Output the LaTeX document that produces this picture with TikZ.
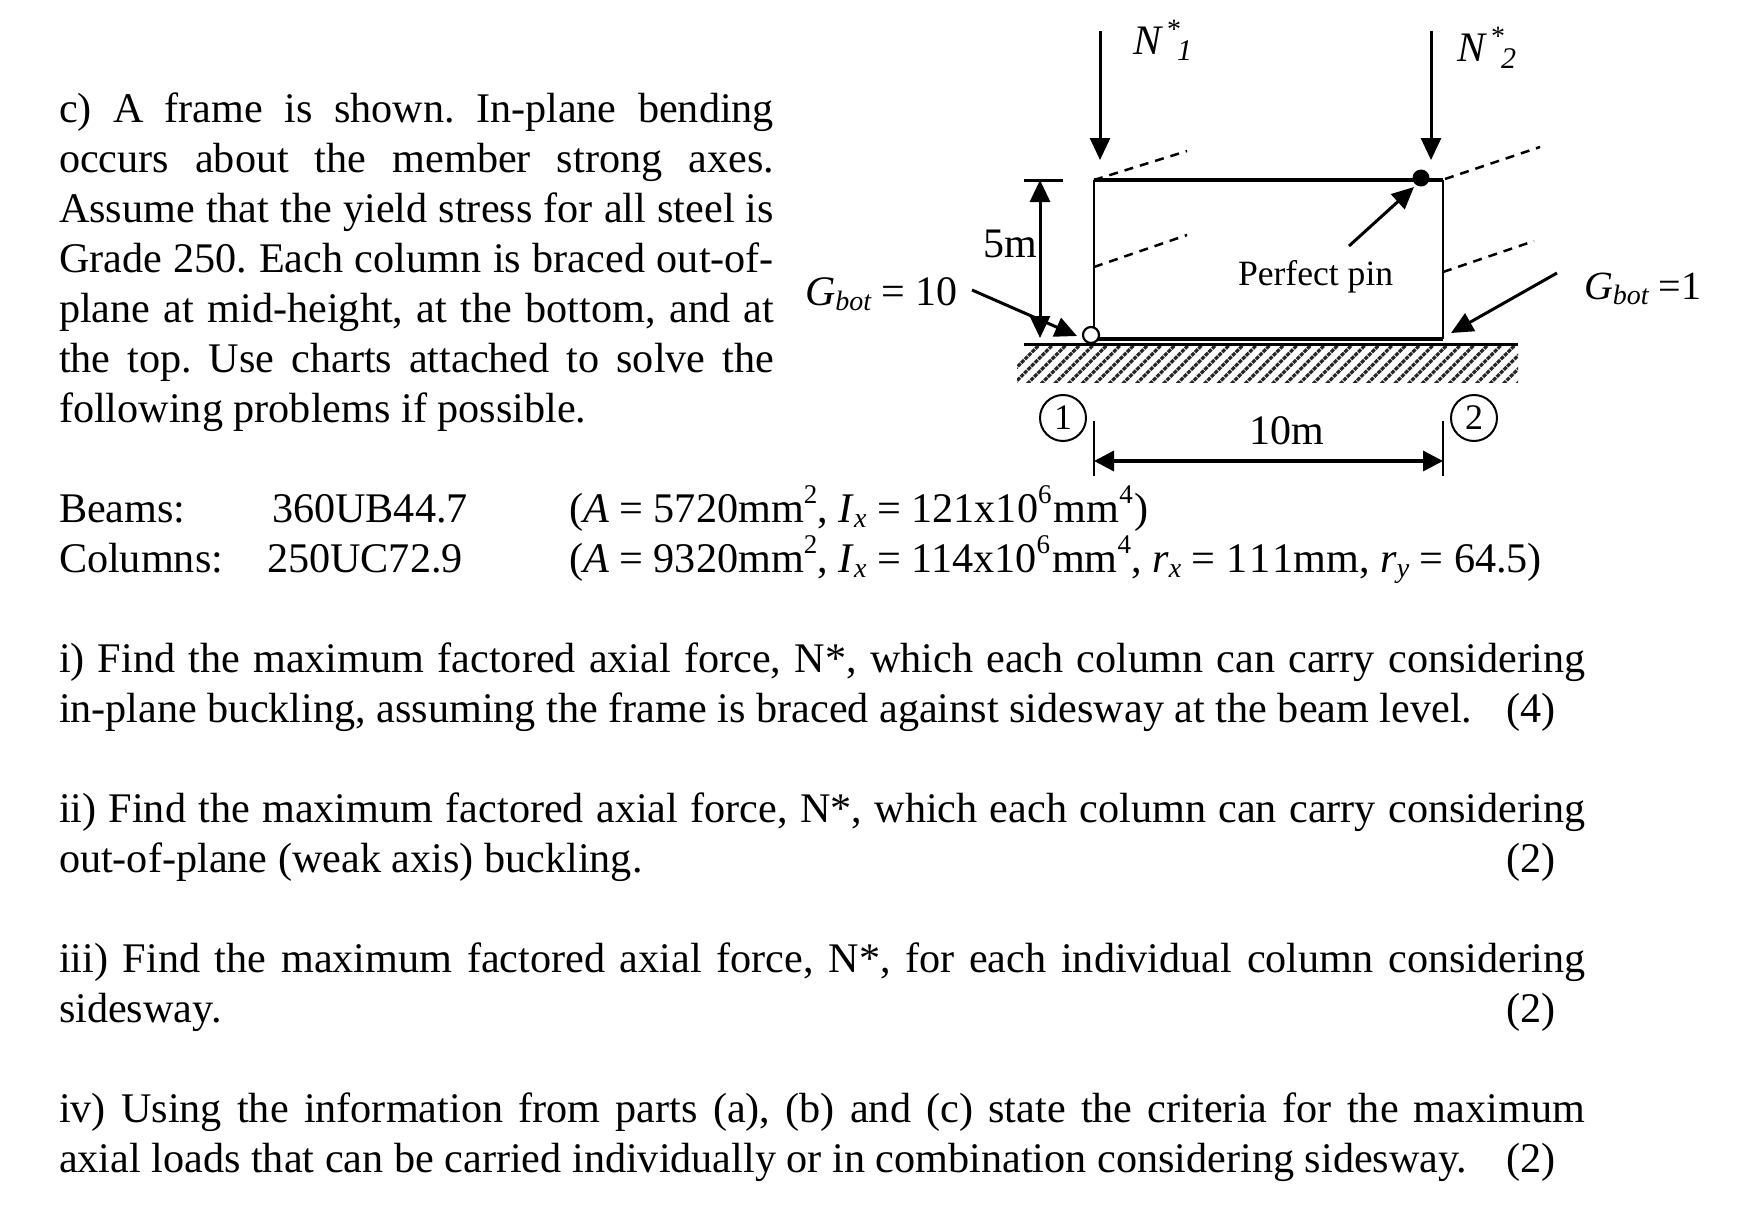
\documentclass[tikz,border=0pt]{standalone}
\usepackage{fontspec}
\setmainfont{Liberation Serif}
\usetikzlibrary{arrows.meta}
\frenchspacing
\newcommand{\bodysize}{\fontsize{42.2}{50}\selectfont}
\newcommand{\sizeof}[1]{\fontsize{#1}{#1}\selectfont}
\newcommand{\jline}[2]{\makebox[#1][s]{#2}}
\newcommand{\upidx}[1]{\raisebox{19pt}{\sizeof{27}#1}}
\newcommand{\dnidx}[1]{\raisebox{-5pt}{\sizeof{28}\itshape #1}}
\newcommand{\starlabel}[1]{{\itshape N\hspace{6pt}\rlap{\raisebox{16pt}{\sizeof{28}\upshape *}}\hspace{10pt}\raisebox{-6pt}{\sizeof{30}#1}}}
\newcommand{\gbot}{{\itshape G}\raisebox{-5pt}{\sizeof{28}\itshape bot}}
\tikzset{
  x=1pt,y=-1pt,
  txt/.style={anchor=base west,inner sep=0pt,outer sep=0pt,font=\bodysize},
  lbl/.style={anchor=base west,inner sep=0pt,outer sep=0pt,font=\sizeof{42}},
  ptr/.style={line width=3pt,-{Triangle[length=22pt,width=20pt]},shorten >=0pt},
  dashline/.style={line width=2.5pt,dash pattern=on 9pt off 7pt},
  dimtick/.style={line width=2pt},
  pinnode/.style={circle,draw=black,line width=2.2pt,minimum size=16pt,inner sep=0pt},
  numcirc/.style={circle,draw=black,line width=2pt,minimum size=46pt,inner sep=0pt,font=\sizeof{36}},
}
\begin{document}
\begin{tikzpicture}
\useasboundingbox (0,0) rectangle (1745,1223);
% paragraph
\node[txt] (p1) at (59,122) {\jline{715pt}{c) A frame is shown. In-plane bending}};
\node[txt] (p2) at (59,172) {\jline{715pt}{occurs about the member strong axes.}};
\node[txt] (p3) at (59,222) {\jline{715pt}{Assume that the yield stress for all steel is}};
\node[txt] (p4) at (59,272) {\jline{715pt}{Grade 250. Each column is braced out-of-}};
\node[txt] (p5) at (59,322) {\jline{715pt}{plane at mid-height, at the bottom, and at}};
\node[txt] (p6) at (59,372) {\jline{715pt}{the top. Use charts attached to solve the}};
\node[txt] (p7) at (59,422) {following problems if possible.};
% sections
\node[txt] (b1) at (59,522) {Beams:};
\node[txt] (b2) at (272,522) {360UB44.7};
\node[txt] (b3) at (569,522) {(\textit{A} = 5720mm\upidx{2}, \textit{I}\dnidx{x} = 121x10\upidx{6}\hspace{2pt}mm\upidx{4}\hspace{2pt})};
\node[txt] (c1) at (59,572) {Columns:};
\node[txt] (c2) at (267,572) {250UC72.9};
\node[txt] (c3) at (569,572) {(\textit{A} = 9320mm\upidx{2}, \textit{I}\dnidx{x} = 114x10\upidx{6}\hspace{2pt}mm\upidx{4}, \textit{r}\dnidx{x} = 1\hspace{2pt}1\hspace{2pt}1mm, \textit{r}\dnidx{y} = 64.5)};
\node[txt] (i1) at (59,672) {\jline{1526pt}{i) Find the maximum factored axial force, N*, which each column can carry considering}};
\node[txt] (i2) at (59,722) {in-plane buckling, assuming the frame is braced against sidesway at the beam level.};
\node[txt,anchor=base east] (i3) at (1556,722) {(4)};
\node[txt] (ii1) at (59,822) {\jline{1526pt}{ii) Find the maximum factored axial force, N*, which each column can carry considering}};
\node[txt] (ii2) at (59,872) {out-of-plane (weak axis) buckling.};
\node[txt,anchor=base east] (ii3) at (1556,872) {(2)};
\node[txt] (iii1) at (59,972) {\jline{1526pt}{iii) Find the maximum factored axial force, N*, for each individual column considering}};
\node[txt] (iii2) at (59,1022) {sidesway.};
\node[txt,anchor=base east] (iii3) at (1556,1022) {(2)};
\node[txt] (iv1) at (59,1122) {\jline{1526pt}{iv) Using the information from parts (a), (b) and (c) state the criteria for the maximum}};
\node[txt] (iv2) at (59,1172) {axial loads that can be carried individually or in combination considering sidesway.};
\node[txt,anchor=base east] (iv3) at (1556,1172) {(2)};
% hatch
\begin{scope}
\clip (1017,346) rectangle (1518,382);
\foreach \i in {0,...,42}{
  \draw[line width=3.2pt,black!85,dash pattern=on 4pt off 1pt] ({1000+\i*13.6},384) -- ({1040+\i*13.6},344);
}
\end{scope}
% named points
\coordinate (tl) at (1094,180);
\coordinate (tr) at (1443,180);
\coordinate (bl) at (1094,339);
\coordinate (br) at (1443,339);
\coordinate (gl) at (1024,344.5);
\coordinate (gr) at (1518,344.5);
\draw[line width=3pt] (gl) -- (gr);
\draw[line width=2.4pt] (bl) -- (tl);
\draw[line width=2.4pt] (tr) -- (br);
\draw[line width=3.4pt] (tl) -- (tr);
\draw[line width=3.4pt] (bl) -- (br);
% dashed
\coordinate (d1a) at (1094,180); \coordinate (d1b) at (1187,151);
\coordinate (d2a) at (1445,179); \coordinate (d2b) at (1540,147);
\coordinate (d3a) at (1094,267); \coordinate (d3b) at (1187,235);
\coordinate (d4a) at (1443,272); \coordinate (d4b) at (1534,241);
\draw[dashline] (d1a) -- (d1b);
\draw[dashline] (d2a) -- (d2b);
\draw[dashline] (d3a) -- (d3b);
\draw[dashline] (d4a) -- (d4b);
% pins
\node[pinnode,fill=white] (pinA) at (1091,335) {};
\node[circle,fill=black,minimum size=17pt,inner sep=0pt] (pinB) at (1421,178) {};
% load arrows
\coordinate (n1s) at (1100,31); \coordinate (n1e) at (1100,160);
\coordinate (n2s) at (1431,31); \coordinate (n2e) at (1431,160);
\draw[ptr] (n1s) -- (n1e);
\draw[ptr] (n2s) -- (n2e);
% pointers
\coordinate (ppS) at (1349,246); \coordinate (ppE) at (1414,187);
\draw[ptr] (ppS) -- (ppE);
\coordinate (g1S) at (972,290); \coordinate (g1E) at (1077,336);
\draw[ptr] (g1S) -- (g1E);
\coordinate (g2S) at (1557,273); \coordinate (g2E) at (1451,333);
\draw[ptr] (g2S) -- (g2E);
% 5m dimension
\coordinate (t5a) at (1024,180); \coordinate (t5b) at (1063,180);
\coordinate (d5a) at (1040,180); \coordinate (d5b) at (1040,338);
\draw[line width=3pt] (t5a) -- (t5b);
\draw[line width=3pt,{Triangle[length=22pt,width=20pt]}-{Triangle[length=22pt,width=20pt]}] (d5a) -- (d5b);
% 10m dimension
\coordinate (t1a) at (1094,421); \coordinate (t1b) at (1094,476);
\coordinate (t2a) at (1443,421); \coordinate (t2b) at (1443,476);
\coordinate (d1L) at (1094,461); \coordinate (d1R) at (1443,461);
\draw[dimtick] (t1a) -- (t1b);
\draw[dimtick] (t2a) -- (t2b);
\draw[line width=3.4pt,{Triangle[length=20pt,width=20pt]}-{Triangle[length=20pt,width=20pt]}] (d1L) -- (d1R);
% circles
\node[numcirc] (c1n) at (1063,418) {\raisebox{-6pt}{1}};
\node[numcirc] (c2n) at (1474,418) {\raisebox{-6pt}{2}};
% labels
\node[lbl] (n1) at (1133,55) {\starlabel{1}};
\node[lbl] (n2) at (1457,62) {\starlabel{2}};
\node[lbl] (five) at (983,257) {5m};
\node[lbl] (ten) at (1249,444) {10m};
\node[lbl,font=\sizeof{35.6}] (pp) at (1238,285) {Perfect pin};
\node[lbl] (g1) at (805,305) {\gbot{} = 10};
\node[lbl,font=\sizeof{40}] (g2) at (1584,299) {\gbot{} =1};
\end{tikzpicture}
\end{document}
